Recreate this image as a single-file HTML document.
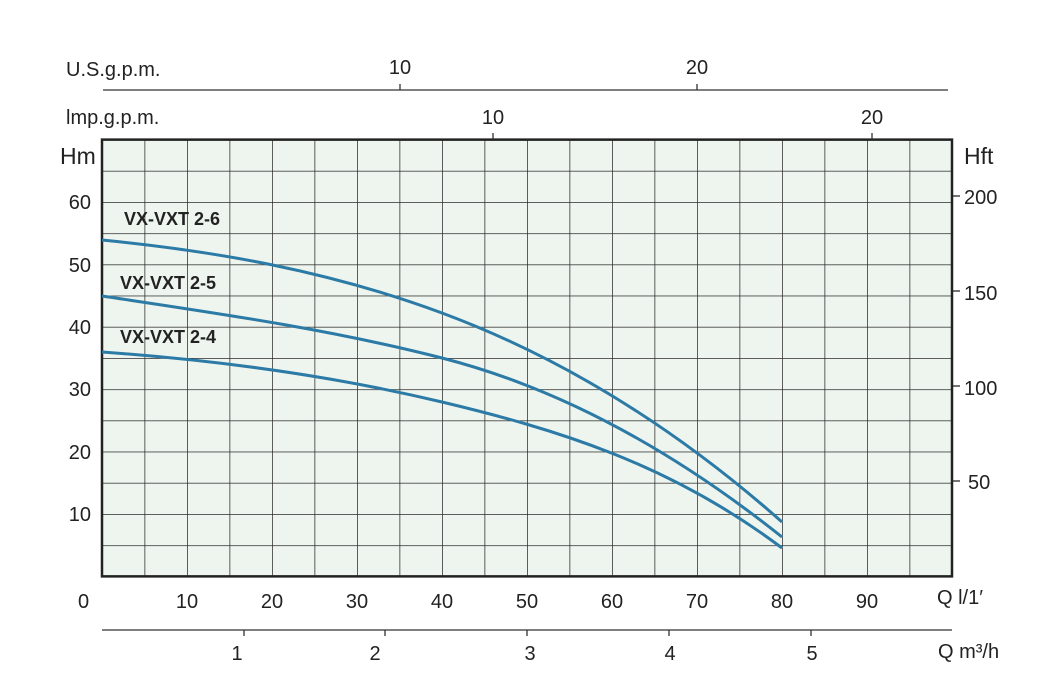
<!DOCTYPE html>
<html><head><meta charset="utf-8"><style>
html,body{margin:0;padding:0;background:#fff;}
svg{display:block;}
text{font-family:"Liberation Sans",sans-serif;font-size:20px;fill:#222;}
.b{font-weight:bold;font-size:18px;}
.big{font-size:23px;}
</style></head><body>
<svg width="1061" height="700" viewBox="0 0 1061 700" xmlns="http://www.w3.org/2000/svg">
<defs>
<pattern id="g" x="102" y="139.6" width="42.5" height="31.2" patternUnits="userSpaceOnUse">
<rect width="42.5" height="31.2" fill="#eef5ef"/>
<path d="M0 0V31.2M0 0H42.5" stroke="#2a2a2a" stroke-width="1.5" fill="none"/>
</pattern>
</defs>
<rect x="102" y="139.6" width="850" height="436.8" fill="url(#g)"/>
<path d="M102 139.6H952V576.4H102Z" fill="none" stroke="#222" stroke-width="2.5"/>
<g fill="none" stroke="#2c7aa6" stroke-width="3" stroke-linejoin="round">
<path d="M102 240 C215 251 329 271 442 313 C555 355 669 422 782 522"/>
<path d="M102 296 C215 313 329 329 442 358 C555 387 669 447 782 537"/>
<path d="M102 352 C215 360 329 375 442 402 C555 429 669 463 782 548"/>
</g>
<text class="b" x="124" y="225">VX-VXT 2-6</text>
<text class="b" x="120" y="289">VX-VXT 2-5</text>
<text class="b" x="120" y="343">VX-VXT 2-4</text>
<text class="big" x="60" y="164">Hm</text>
<g text-anchor="end">
<text x="91" y="209">60</text><text x="91" y="272">50</text><text x="91" y="334">40</text>
<text x="91" y="396">30</text><text x="91" y="459">20</text><text x="91" y="521">10</text>
</g>
<text x="78" y="608">0</text>
<text class="big" x="964" y="164">Hft</text>
<g stroke="#222" stroke-width="1.3"><path d="M952 196H960M952 291H960M952 386H960M952 481H960"/></g>
<text x="964" y="204">200</text><text x="964" y="300">150</text><text x="964" y="395">100</text><text x="968" y="489">50</text>
<g text-anchor="middle">
<text x="187" y="608">10</text><text x="272" y="608">20</text><text x="357" y="608">30</text>
<text x="442" y="608">40</text><text x="527" y="608">50</text><text x="612" y="608">60</text>
<text x="697" y="608">70</text><text x="782" y="608">80</text><text x="867" y="608">90</text>
</g>
<text x="937" y="604">Q  l/1′</text>
<path d="M102 630H952M244 630V636M385 630V636M527 630V636M669 630V636M811 630V636" stroke="#333" stroke-width="1.3"/>
<g text-anchor="middle">
<text x="237" y="660">1</text><text x="375" y="660">2</text><text x="530" y="660">3</text>
<text x="670" y="660">4</text><text x="812" y="660">5</text>
</g>
<text x="938" y="658">Q  m³/h</text>
<text x="66" y="76">U.S.g.p.m.</text>
<path d="M103 90H948M400 90V84M697 90V84" stroke="#333" stroke-width="1.3"/>
<text x="400" y="74" text-anchor="middle">10</text><text x="697" y="74" text-anchor="middle">20</text>
<text x="66" y="124">lmp.g.p.m.</text>
<path d="M493 139V133M872 139V133" stroke="#333" stroke-width="1.3"/>
<text x="493" y="124" text-anchor="middle">10</text><text x="872" y="124" text-anchor="middle">20</text>
</svg>
</body></html>
